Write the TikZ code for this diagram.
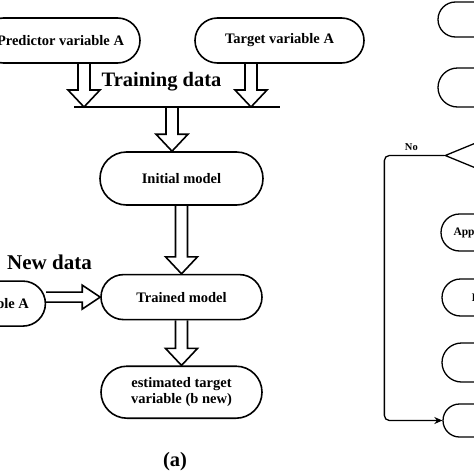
\documentclass[tikz,border=0pt]{standalone}
\usepackage{fontspec}
\setmainfont{Liberation Serif}
\usetikzlibrary{positioning,arrows.meta,calc,shapes.misc,shapes.geometric}

\begin{document}
\begin{tikzpicture}[
  x=1pt, y=-1pt,
  font=\bfseries,
  % stadium-shaped boxes; the ones of panel (b) are drawn a little lighter
  pill/.style={rounded rectangle, draw, line width=1.6pt, inner sep=0pt, align=center,
               font=\fontsize{14.5}{16}\selectfont\bfseries,
               minimum width=161pt, minimum height=45pt},
  pillr/.style={rounded rectangle, draw, line width=1.3pt, inner sep=0pt,
                minimum width=160pt, minimum height=37pt},
  big/.style={font=\fontsize{20.5}{24}\selectfont\bfseries},
  % hollow block arrows, drawn as an open outline between the two points
  hollow/.style={line width=1.6pt, to path={let \p1=(\tikztostart), \p2=(\tikztotarget) in
    (\x1-6pt,\y1) -- (\x1-6pt,\y2+17pt) -- (\x1-16pt,\y2+17pt) -- (\x1,\y2)
    -- (\x1+16pt,\y2+17pt) -- (\x1+6pt,\y2+17pt) -- (\x1+6pt,\y1)}},
  hollowr/.style={line width=1.6pt, to path={let \p1=(\tikztostart), \p2=(\tikztotarget) in
    (\x1,\y1+5pt) -- (\x2-18pt,\y1+5pt) -- (\x2-18pt,\y1+12pt) -- (\x2,\y1)
    -- (\x2-18pt,\y1-12pt) -- (\x2-18pt,\y1-5pt) -- (\x1,\y1-5pt)}},
  flow/.style={-{Stealth[length=8pt,width=7pt]}, line width=1.3pt, rounded corners=5pt}
]
\useasboundingbox (0,0) rectangle (474,474);

% panel (a)
\node[pill, minimum width=159pt] (pred) at (60.5,40.5) {Predictor variable A};
\node[pill, minimum width=169pt] (target) at (279.5,40.5) {Target variable A};
\node[pill, minimum width=163pt, minimum height=53pt] (initial) at (181.5,178.5) {Initial model};
\node[pill, below=68pt of initial] (trained) {Trained model};
\node[pill, minimum height=52pt, below=45pt of trained] (estimated) {estimated target\\ variable (b new)};
\node[pill, minimum width=160pt, left=54pt of trained, yshift=-6.5pt] (newvar) {Predictor variable A};

\coordinate (busL) at (74,107);
\coordinate (busR) at (280,107);
\draw[line width=1.6pt] (busL) -- (busR);

\node[big] (train) at (161.5,82) {Training data};
\node[big, font=\fontsize{21}{24}\selectfont\bfseries] (new) at (49.5,262) {New data};
\node[big] (capa) at (175,462) {(a)};

\draw[hollow] ([xshift=23.5pt]pred.south) to ([xshift=23.5pt]pred.south |- busL);
\draw[hollow] ([xshift=-28.5pt]target.south) to ([xshift=-28.5pt]target.south |- busL);
\draw[hollow] ([xshift=-9.5pt]initial.north |- busL) to ([xshift=-9.5pt]initial.north);
\foreach \a/\b in {initial/trained, trained/estimated}
  \draw[hollow] (\a.south) to (\b.north);
\draw[hollowr] (trained.west -| newvar.east) to (trained.west);

% panel (b), cut off at the right edge
\node[pillr, minimum height=35pt] (first) at (518,19.5) {};
\node[pillr, minimum height=39pt] (second) at (518,87.5) {};
\node[diamond, draw, line width=1.3pt, inner sep=0pt,
      minimum width=160pt, minimum height=66pt] (check) at (525,155.5) {};
\node[pillr] (apply) at (521,232.5) {};
\node[anchor=west, font=\fontsize{11.5}{13}\selectfont\bfseries] (applytx) at (450,232.5) {App};
\node[pillr] (fourth) at (522,297.5) {};
\node[anchor=west, font=\fontsize{11.5}{13}\selectfont\bfseries] (fourthtx) at (468,297.5) {I};
\node[pillr, minimum height=39pt] (fifth) at (522,362.5) {};
\node[pillr, minimum height=33pt] (loop) at (523,420.5) {};

\draw[flow] (check.west) -- ++(-60,0)
  node[pos=0.55, above=1pt, font=\fontsize{10.5}{12}\selectfont\bfseries] (no) {No}
  |- (loop.west);
\end{tikzpicture}
\end{document}
